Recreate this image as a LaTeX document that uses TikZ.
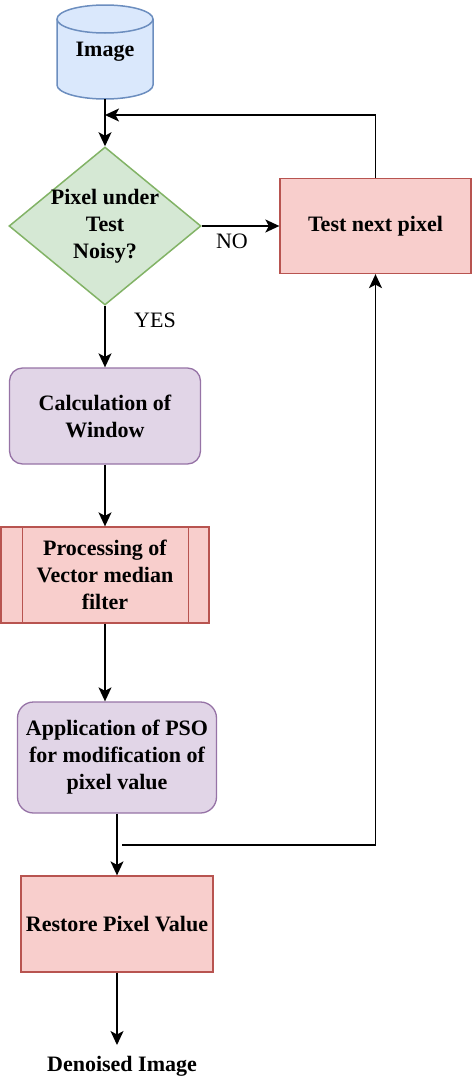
\documentclass[tikz,border=0pt]{standalone}
\usepackage{fontspec}
\setmainfont{Liberation Serif}
\usetikzlibrary{shapes.geometric,arrows.meta}
\definecolor{bluefill}{HTML}{DAE8FC}
\definecolor{blueline}{HTML}{6C8EBF}
\definecolor{greenfill}{HTML}{D5E8D4}
\definecolor{greenline}{HTML}{82B366}
\definecolor{redfill}{HTML}{F8CECC}
\definecolor{redline}{HTML}{B85450}
\definecolor{purfill}{HTML}{E1D5E7}
\definecolor{purline}{HTML}{9673A6}
\begin{document}
\begin{tikzpicture}[x=1pt,y=1pt,
  lbl/.style={font=\fontsize{22}{27}\selectfont\bfseries, align=center},
  plain/.style={font=\fontsize{22}{27}\selectfont},
  box/.style={draw, line width=1.3pt, inner sep=0pt, lbl},
  redbox/.style={box, draw=redline, fill=redfill},
  purbox/.style={box, draw=purline, fill=purfill, rounded corners=13pt},
  arr/.style={line width=1.4pt, -{Stealth[length=14pt,width=13pt,inset=3.5pt]}},
]
\useasboundingbox (0,0) rectangle (474,-1079);

% cylinder
\path[draw=blueline, fill=bluefill, line width=1.5pt]
  (57,-19) -- (57,-85) arc[start angle=180, end angle=360, x radius=48pt, y radius=14pt]
  -- (153,-19) arc[start angle=0, end angle=180, x radius=48pt, y radius=14pt] -- cycle;
\draw[blueline, line width=1.5pt] (57,-19) arc[start angle=180, end angle=360, x radius=48pt, y radius=14pt];
\node[lbl, minimum width=96pt, minimum height=94pt, inner sep=0pt] (img) at (105,-52) {Image};

% diamond
\node[diamond, draw=greenline, fill=greenfill, line width=1.5pt, minimum width=192pt, minimum height=158pt, inner sep=0pt] (dia) at (105,-226) {};
\node[lbl] (diat) at (dia.center) {Pixel under\\Test\\Noisy?};

\node[redbox, minimum width=191pt, minimum height=95pt] (test) at (375.5,-226) {Test next pixel};
\node[purbox, minimum width=191pt, minimum height=96pt] (calc) at (105,-416) {Calculation of\\Window};
\node[redbox, minimum width=208pt, minimum height=96pt] (proc) at (105,-575) {Processing of\\Vector median\\filter};
\draw[redline, line width=1.3pt] ([xshift=22pt]proc.north west) -- ([xshift=22pt]proc.south west);
\draw[redline, line width=1.3pt] ([xshift=-21pt]proc.north east) -- ([xshift=-21pt]proc.south east);
\node[purbox, minimum width=199pt, minimum height=111pt, rounded corners=16pt] (app) at (117,-757.5) {Application of PSO\\for modification of\\pixel value};
\node[redbox, minimum width=192pt, minimum height=96pt] (rest) at (117,-924) {Restore Pixel Value};
\node[lbl, inner sep=0pt] (den) at (122,-1066) {Denoised Image};

\node[plain] (no) at (232,-241) {NO};
\node[plain] (yes) at (155,-320) {YES};

\coordinate (join) at (105,-115);
\coordinate (fb) at (122,-845);
\coordinate (denin) at (117,-1045);

\draw[arr] (img.south) -- (img.south |- dia.north);
\draw[arr] (dia.east) -- (test.west);
\draw[arr] (dia.south) -- (dia.south |- calc.north);
\draw[arr] (calc.south) -- (calc.south |- proc.north);
\draw[arr] (proc.south) -- (proc.south |- app.north);
\draw[arr] (app.south) -- (app.south |- rest.north);
\draw[arr] (rest.south) -- (denin);
\draw[arr] (test.north) |- (join);
\draw[arr] (fb) -| (test.south);
\end{tikzpicture}
\end{document}
